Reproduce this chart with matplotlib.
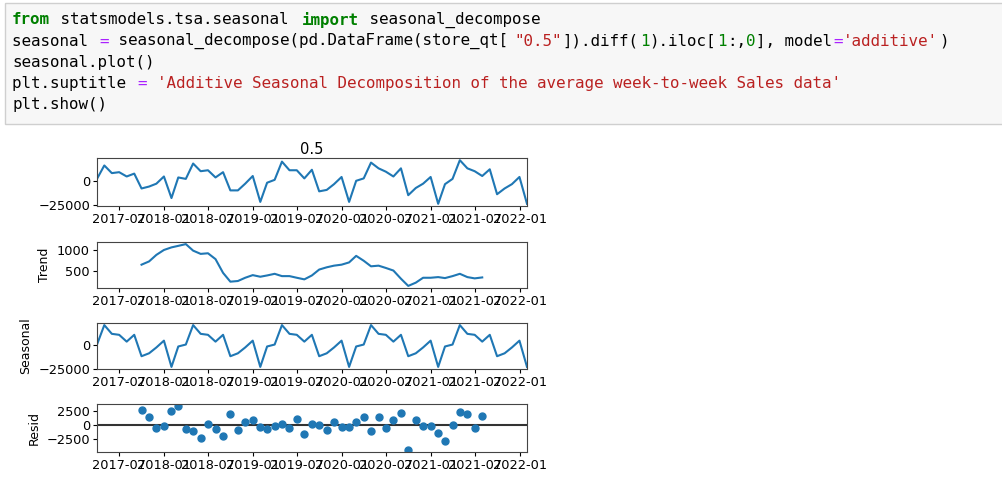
import numpy as np
import pandas as pd
import matplotlib
matplotlib.use("Agg")
import matplotlib.pyplot as plt
import matplotlib.dates as mdates

# monthly values (month-end index)
dates = pd.date_range("2017-03-31", periods=59, freq="ME")
observed = [2000, 16000, 8000, 9000, 4500, 7500, -8000, -6000, -3000, 4500, -18000, 3500,
            2000, 18000, 10000, 11000, 3500, 9000, -10000, -10000, -3000, 5000, -22000, -2000,
            1000, 20000, 11000, 11000, 2500, 11500, -11000, -9500, -3500, 4000, -22000, 0,
            2500, 19000, 13000, 9500, 4500, 13000, -15000, -7500, -3000, 4000, -24000, -3500,
            2000, 21500, 13000, 10000, 5000, 12000, -14000, -8000, -3500, 4000, -24000]
season_pattern = [0, 20000, 11000, 10000, 3000, 10000, -12000, -9000, -3000, 4000, -23000, -2000]
trend_vals = [643, 722, 881, 1000, 1063, 1100, 1143, 984, 905, 920, 778, 444,
              230, 246, 325, 389, 350, 381, 421, 365, 365, 325, 286, 381,
              524, 579, 619, 643, 698, 857, 738, 603, 619, 563, 500, 302,
              127, 206, 325, 325, 341, 317, 365, 421, 341, 310, 333]
resid_vals = [2680, 1310, -480, -120, 2500, 3270, -710, -1010, -2260, 180, -710, -1960,
              1960, -890, 600, 890, -420, -600, -180, 180, -480, 1070, -1610, 180,
              0, -890, 480, -420, -420, 480, 1310, -1070, 1370, -480, 890, 2080,
              -4290, 890, -180, -180, -1310, -2680, 0, 2260, 1900, -480, 1610]

seasonal = [season_pattern[i % 12] for i in range(len(dates))]
trend = [np.nan] * 6 + trend_vals + [np.nan] * 6
resid = [np.nan] * 6 + resid_vals + [np.nan] * 6

W, H = 1003, 486
fig = plt.figure(figsize=(W / 100, H / 100), dpi=100)

# notebook code cell
fig.patches.append(plt.Rectangle((5 / W, 1 - 124 / H), 998 / W, 121 / H, transform=fig.transFigure,
                                 facecolor="#f7f7f7", edgecolor="#cfcfcf", lw=1))
GREEN, RED, PURPLE, NUM, BLACK = "#008000", "#ba2121", "#aa22ff", "#008000", "#000000"
code = [
    [("from", GREEN, "bold"), (" statsmodels.tsa.seasonal ", BLACK, "normal"), ("import", GREEN, "bold"),
     (" seasonal_decompose", BLACK, "normal")],
    [("seasonal ", BLACK, "normal"), ("=", PURPLE, "normal"), (" seasonal_decompose(pd.DataFrame(store_qt[", BLACK, "normal"),
     ('"0.5"', RED, "normal"), ("]).diff(", BLACK, "normal"), ("1", NUM, "normal"), (").iloc[", BLACK, "normal"),
     ("1", NUM, "normal"), (":,", BLACK, "normal"), ("0", NUM, "normal"), ("], model", BLACK, "normal"),
     ("=", PURPLE, "normal"), ("'additive'", RED, "normal"), (")", BLACK, "normal")],
    [("seasonal.plot()", BLACK, "normal")],
    [("plt.suptitle ", BLACK, "normal"), ("=", PURPLE, "normal"), (" ", BLACK, "normal"),
     ("'Additive Seasonal Decomposition of the average week-to-week Sales data'", RED, "normal")],
    [("plt.show()", BLACK, "normal")],
]
cw = 9.66
for li, line in enumerate(code):
    y = 20 + li * 21.2
    col = 0
    for txt, c, w in line:
        fig.text((12 + col * cw) / W, 1 - y / H, txt, color=c, fontweight=w, family="DejaVu Sans Mono",
                 fontsize=11.4, va="center", ha="left")
        col += len(txt)

# decomposition axes: (top, bottom) in pixels
boxes = [(158, 206), (242, 288), (323, 369), (404, 452)]
left, right = 97, 527
axes = [fig.add_axes([left / W, 1 - b / H, (right - left) / W, (b - t) / H]) for t, b in boxes]
blue = "#1f77b4"
axes[0].plot(dates, observed, color=blue)
axes[0].set_title("0.5", fontsize=10.5, pad=3)
axes[1].plot(dates, trend, color=blue)
axes[1].set_ylabel("Trend", fontsize=9)
axes[2].plot(dates, seasonal, color=blue)
axes[2].set_ylabel("Seasonal", fontsize=9)
axes[3].plot(dates, resid, marker="o", linestyle="none", color=blue, markersize=5)
axes[3].axhline(0, color="#333333", lw=1.5, zorder=-1)
axes[3].set_ylabel("Resid", fontsize=9)

axes[0].set_yticks([0, -25000])
axes[1].set_yticks([500, 1000])
axes[2].set_yticks([0, -25000])
axes[3].set_yticks([2500, 0, -2500])
for ax in axes:
    ax.set_xlim(dates[0], dates[-1])
    ax.xaxis.set_major_locator(mdates.MonthLocator(bymonth=(1, 7)))
    ax.xaxis.set_major_formatter(mdates.DateFormatter("%Y-%m"))
    ax.tick_params(labelsize=9.3, length=3, pad=2)
    for s in ax.spines.values():
        s.set_color("#444444")

fig.savefig("out.png", dpi=100)
